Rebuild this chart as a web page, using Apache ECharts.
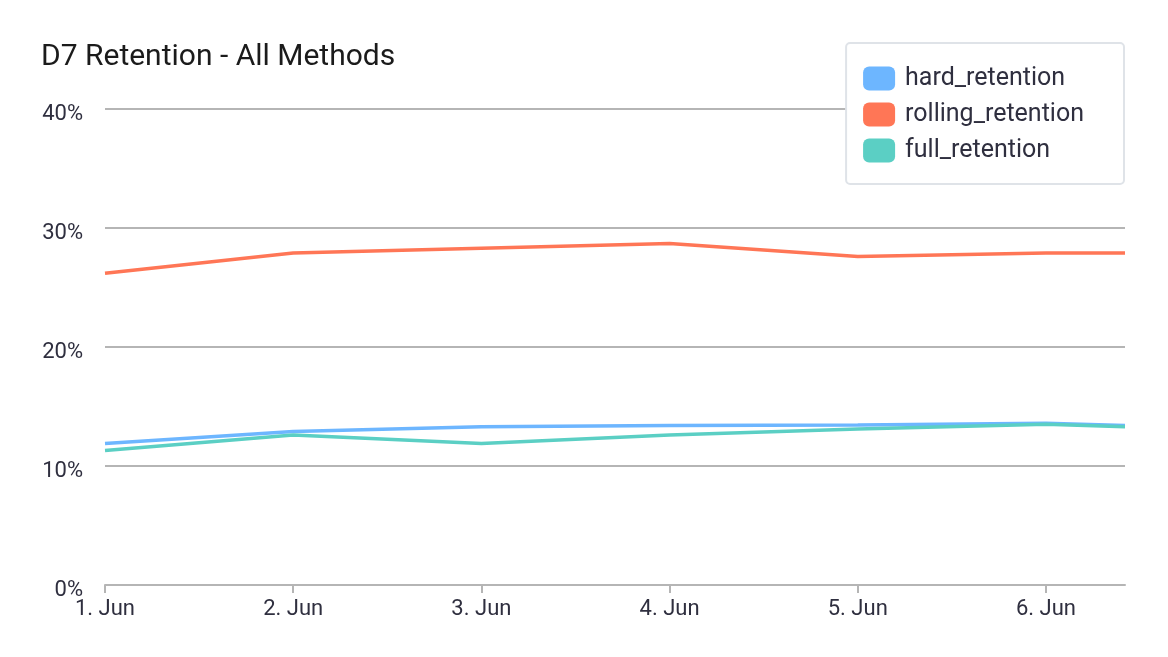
<!DOCTYPE html>
<html>
<head>
<meta charset="utf-8">
<script src="https://cdn.jsdelivr.net/npm/echarts@6/dist/echarts.min.js"></script>
<style>html,body{margin:0;padding:0;background:#fff}#c{width:1168px;height:657px}</style>
</head>
<body>
<div id="c"></div>
<script>
// Day offsets from 1 Jun (last point is the right edge of the axis)
const days = [0, 1, 2, 3, 4, 5, 5.42];
const tickLabels = ['1. Jun', '2. Jun', '3. Jun', '4. Jun', '5. Jun', '6. Jun'];
const hardRetention = [11.9, 12.9, 13.3, 13.4, 13.45, 13.6, 13.4];
const rollingRetention = [26.2, 27.9, 28.3, 28.7, 27.6, 27.9, 27.9];
const fullRetention = [11.3, 12.6, 11.9, 12.6, 13.1, 13.5, 13.3];
const seriesNames = ['hard_retention', 'rolling_retention', 'full_retention'];
const colors = ['#6db6ff', '#ff7656', '#5bcfc4'];

const font = 'Roboto, "DejaVu Sans", sans-serif';
const pair = arr => days.map((d, i) => [d, arr[i]]);
const chart = echarts.init(document.getElementById('c'), null, {renderer: 'canvas'});
chart.setOption({
  animation: false,
  color: colors,
  title: {
    text: 'D7 Retention - All Methods',
    left: 36, top: 37,
    textStyle: {fontFamily: font, fontSize: 30, fontWeight: 'normal', color: '#1b1b1b'}
  },
  legend: {
    orient: 'vertical',
    right: 44, top: 43,
    padding: [23, 40, 21, 17],
    itemWidth: 32, itemHeight: 24, itemGap: 11,
    icon: 'roundRect',
    backgroundColor: '#fff',
    borderColor: '#dfe3e8', borderWidth: 2, borderRadius: 4,
    textStyle: {fontFamily: font, fontSize: 25, color: '#2f2f3f', padding: [0, 0, 0, 5]},
    data: seriesNames
  },
  grid: {left: 105, right: 43, top: 109, bottom: 72},
  xAxis: {
    type: 'value', min: 0, max: 5.42, interval: 1,
    axisLine: {show: true, lineStyle: {color: '#b5b5b5', width: 2}},
    axisTick: {show: true, length: 8, lineStyle: {color: '#b5b5b5', width: 2}},
    splitLine: {show: false},
    axisLabel: {
      fontFamily: font, fontSize: 22, color: '#2f2f3f', margin: 13, showMaxLabel: false,
      formatter: v => tickLabels[Math.round(v)] || ''
    }
  },
  yAxis: {
    type: 'value', min: 0, max: 40, interval: 10,
    axisLine: {show: false}, axisTick: {show: false},
    splitLine: {lineStyle: {color: '#b5b5b5', width: 2}},
    axisLabel: {
      margin: 22, formatter: '{a|{value}%}',
      rich: {a: {fontFamily: font, fontSize: 22, color: '#2f2f3f', padding: [10, 0, 0, 0]}}
    }
  },
  series: [hardRetention, rollingRetention, fullRetention].map((arr, i) => ({
    name: seriesNames[i], type: 'line', data: pair(arr),
    showSymbol: false, symbol: 'none',
    lineStyle: {width: 3.5, color: colors[i]},
    itemStyle: {color: colors[i]}
  }))
});
</script>
</body>
</html>
